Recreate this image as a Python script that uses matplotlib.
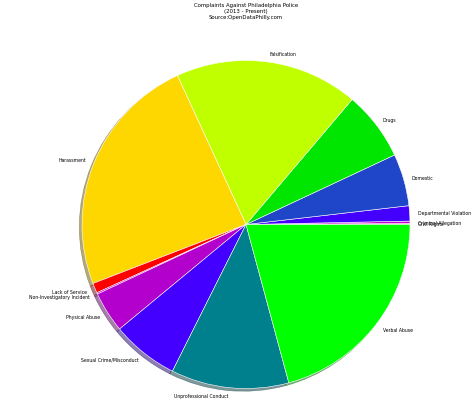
import numpy as np
import matplotlib
matplotlib.use('Agg')
from matplotlib import pyplot as plt

# complaint types, alphabetical (pie goes counterclockwise from 3 o'clock)
categories = ['Civil Rights', 'Criminal Allegation', 'Departmental Violation', 'Domestic',
              'Drugs', 'Falsification', 'Harassment', 'Lack of Service',
              'Non-Investigatory Incident', 'Physical Abuse', 'Sexual Crime/Misconduct',
              'Unprofessional Conduct', 'Verbal Abuse']
# shares (degrees of the circle)
counts = [0.4, 0.8, 5.4, 18.5, 24.6, 65.1, 86.4, 3.5, 0.5, 14.5, 23.8, 41.8, 74.9]
colors = ['#ff66cc', '#cc00cc', '#4400ff', '#1f45c8', '#00e600', '#bfff00', '#ffd700',
          '#ff0000', '#cc00cc', '#b300cc', '#4400ff', '#007f8c', '#00ff00']

fig = plt.figure(figsize=(4.74, 4.10), dpi=100)
ax = fig.add_axes([41 / 474, -20.5 / 410, 410 / 474, 410 / 410])

wedges, texts = ax.pie(counts, labels=categories, colors=colors, startangle=0,
                       shadow={'ox': -0.012, 'oy': -0.012, 'shade': 0.6},
                       labeldistance=1.05,
                       wedgeprops={'edgecolor': 'white', 'linewidth': 0.4},
                       textprops={'fontsize': 3.3})
ax.set_xlim(-1.25, 1.25)
ax.set_ylim(-1.25, 1.25)
ax.set_aspect('equal')
ax.axis('off')

fig.text(246 / 474, 1 - 3 / 410,
         'Complaints Against Philadelphia Police\n(2013 - Present)\nSource:OpenDataPhilly.com',
         ha='center', va='top', fontsize=3.9, linespacing=1.2)

fig.savefig('out.png', dpi=100)
